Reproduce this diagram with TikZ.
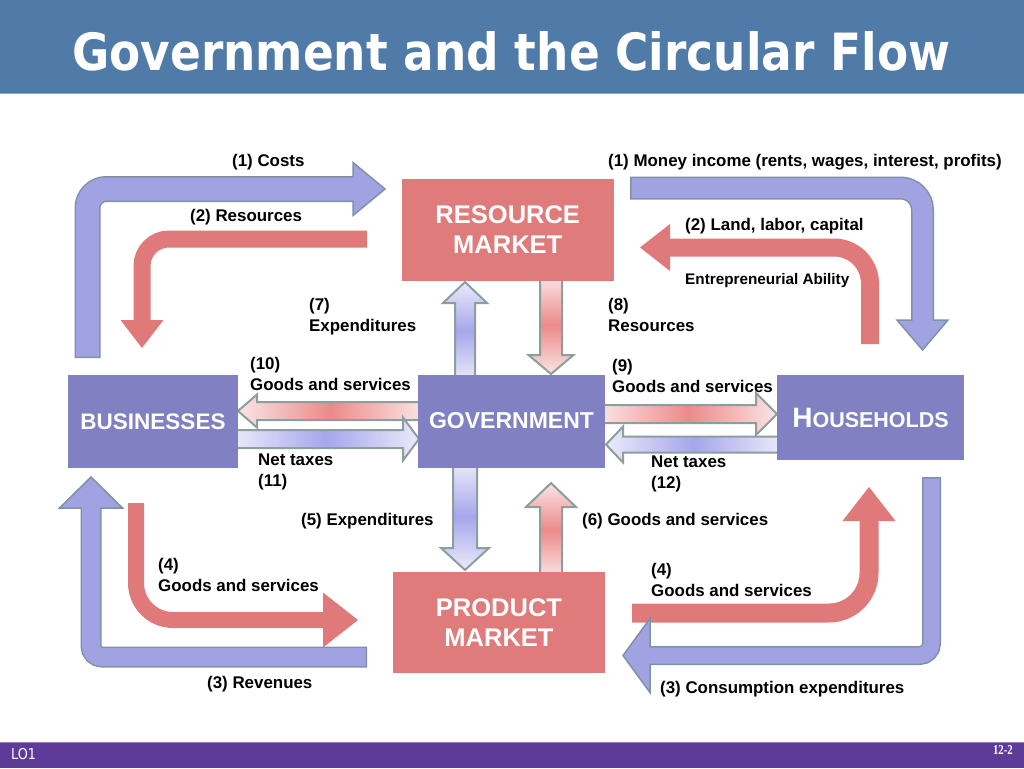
\documentclass[tikz,border=0pt]{standalone}
\usepackage{fontspec}
\setmainfont{Liberation Sans}
\newfontfamily\titlefont{DejaVu Sans}
\newfontfamily\serifnum{Liberation Serif}
\definecolor{bf}{RGB}{160,162,226}
\definecolor{bo}{RGB}{126,146,166}
\definecolor{rf}{RGB}{224,122,122}
\definecolor{boxred}{RGB}{224,123,123}
\definecolor{boxpur}{RGB}{128,128,194}
\definecolor{ao}{RGB}{140,158,158}
\definecolor{rl}{RGB}{250,228,228}
\definecolor{rm}{RGB}{236,138,138}
\definecolor{bl}{RGB}{234,234,250}
\definecolor{bm}{RGB}{166,166,236}
\definecolor{titleblue}{RGB}{80,122,168}
\definecolor{footpur}{RGB}{94,59,153}
\newcommand\hblock[7]{%
  \path[#1] ({#2},{#5-#6}) -- ({#3},{#5-#6}) -- ({#3},{#5-#7}) -- ({#4},{#5})
    -- ({#3},{#5+#7}) -- ({#3},{#5+#6}) -- ({#2},{#5+#6}) -- cycle;}
\newcommand\vblock[7]{%
  \path[#1] ({#5-#6},{#2}) -- ({#5-#6},{#3}) -- ({#5-#7},{#3}) -- ({#5},{#4})
    -- ({#5+#7},{#3}) -- ({#5+#6},{#3}) -- ({#5+#6},{#2}) -- cycle;}
\begin{document}
\begin{tikzpicture}[x=1pt,y=-1pt,
  lbl/.style={font=\fontsize{16.9}{21}\selectfont\bfseries, inner sep=0pt, align=left},
  hred/.style={draw=ao, line width=2pt, line join=miter, left color=rl, right color=rl, middle color=rm},
  hblue/.style={draw=ao, line width=2pt, line join=miter, left color=bl, right color=bl, middle color=bm},
  vred/.style={draw=ao, line width=2pt, line join=miter, top color=rl, bottom color=rl, middle color=rm},
  vblue/.style={draw=ao, line width=2pt, line join=miter, top color=bl, bottom color=bl, middle color=bm},
  redbody/.style={draw=rf, line cap=butt},
  bluebody/.style={draw=bf, line cap=butt},
  blueline/.style={draw=bo, line cap=butt},
  redhead/.style={fill=rf},
  bluehead/.style={fill=bf, draw=bo, line width=1.5pt, line join=miter},
  box/.style={draw=none, inner sep=0pt, text=white, font=\bfseries, align=center}]
\useasboundingbox (0,0) rectangle (1024,768);
% title bar and footer
\fill[titleblue] (0,0) rectangle (1024,93);
\draw[color={rgb,255:red,140;green,170;blue,205}, line width=1.5pt] (0,93.5) -- (1024,93.5);
\node[anchor=base west, inner sep=0pt, text=white] (title) at (72,70)
  {\resizebox{878pt}{39pt}{\titlefont\bfseries Government and the Circular Flow}};
\fill[footpur] (0,742) rectangle (1024,768);
\draw[color={rgb,255:red,150;green,120;blue,200}, line width=1pt] (0,742.5) -- (1024,742.5);
\node[anchor=west, inner sep=0pt, text=white] (lo) at (11,754)
  {\scalebox{0.85}[1]{\titlefont\fontsize{15}{15}\selectfont LO1}};
\node[anchor=east, inner sep=0pt, text=white] (pg) at (1013,750)
  {\scalebox{0.8}[1]{\serifnum\fontsize{13.5}{13.5}\selectfont\bfseries 12-2}};

% red bent arrows
\draw[redbody, line width=17pt, rounded corners=27pt] (367,239) -- (142,239) -- (142,322);
\fill[redhead] (120.5,320) -- (142,348) -- (163.5,320) -- cycle;
\draw[redbody, line width=18pt, rounded corners=36pt] (870,344) -- (870,247.5) -- (668,247.5);
\fill[redhead] (670,224) -- (640,247.5) -- (670,271) -- cycle;
\draw[redbody, line width=16pt, rounded corners=37pt] (136,503) -- (136,620) -- (325,620);
\fill[redhead] (323,592.5) -- (358,620) -- (323,647.5) -- cycle;
\draw[redbody, line width=19pt, rounded corners=40pt] (632,613) -- (869,613) -- (869,519);
\fill[redhead] (842.5,521) -- (869,487) -- (895.5,521) -- cycle;

% blue bent arrows
\draw[blueline, line width=26pt, rounded corners=19pt] (87.5,358) -- (87.5,189) -- (354,189);
\filldraw[bluehead] (353,162.5) -- (385,189) -- (353,215.5) -- cycle;
\draw[bluebody, line width=23pt, rounded corners=19pt, shorten <=1.5pt, shorten >=-3pt] (87.5,358) -- (87.5,189) -- (353,189);

\draw[blueline, line width=23pt, rounded corners=22pt] (630,188) -- (922.5,188) -- (922.5,321);
\filldraw[bluehead] (897,320) -- (922.5,350) -- (948,320) -- cycle;
\draw[bluebody, line width=20pt, rounded corners=22pt, shorten <=1.5pt, shorten >=-3pt] (630,188) -- (922.5,188) -- (922.5,320);

\draw[blueline, line width=21pt, rounded corners=11pt] (367,657) -- (91,657) -- (91,507);
\filldraw[bluehead] (59.5,508) -- (91,477) -- (122.5,508) -- cycle;
\draw[bluebody, line width=18pt, rounded corners=11pt, shorten <=1.5pt, shorten >=-3pt] (367,657) -- (91,657) -- (91,508);

\draw[blueline, line width=19pt, rounded corners=12pt] (931.5,477) -- (931.5,655.5) -- (649,655.5);
\filldraw[bluehead] (650,618.5) -- (623,655.5) -- (650,692.5) -- cycle;
\draw[bluebody, line width=16pt, rounded corners=12pt, shorten <=1.5pt, shorten >=-3pt] (931.5,477) -- (931.5,655.5) -- (650,655.5);

% central block arrows
\hblock{hred}{600}{756}{777}{414}{9}{21}
\hblock{hblue}{782}{623}{606}{444.5}{8}{18}
\hblock{hred}{423}{257}{238}{411}{9}{16.5}
\hblock{hblue}{233}{403}{419}{439}{9}{21.5}
\vblock{vblue}{380}{303}{282}{465}{10}{22}
\vblock{vred}{276}{355}{374}{551}{11}{22.5}
\vblock{vblue}{463}{548}{570}{465}{12}{24}
\vblock{vred}{577}{507}{483}{551}{11}{25}

% boxes
\node[box, fill=boxred, minimum width=212.5pt, minimum height=102pt,
  font=\fontsize{25.5}{30}\selectfont\bfseries] (rm) at (507.75,230) {RESOURCE\\MARKET};
\node[box, fill=boxred, minimum width=212pt, minimum height=101pt,
  font=\fontsize{25.5}{30}\selectfont\bfseries] (pm) at (499,622.5) {PRODUCT\\MARKET};
\node[box, fill=boxpur, minimum width=170pt, minimum height=93pt,
  font=\fontsize{22.5}{26}\selectfont\bfseries] (bus) at (153,421.5) {BUSINESSES};
\node[box, fill=boxpur, minimum width=187pt, minimum height=93pt,
  font=\fontsize{23}{26}\selectfont\bfseries] (gov) at (511.5,421.5) {\raisebox{1.5pt}{GOVERNMENT}};
\node[box, fill=boxpur, minimum width=187pt, minimum height=85pt] (hh) at (870.5,417.5)
  {{\fontsize{28}{28}\selectfont H}{\fontsize{21.5}{28}\selectfont OUSEHOLDS}};

% labels
\node[lbl, anchor=base west] (l1) at (232,166) {(1) Costs};
\node[lbl, anchor=base west] (l2) at (190,221) {(2) Resources};
\node[lbl, anchor=base west] (l3) at (608,166) {(1) Money income (rents, wages, interest, profits)};
\node[lbl, anchor=base west] (l4) at (685,230) {(2) Land, labor, capital};
\node[lbl, anchor=base west, font=\fontsize{15.3}{18}\selectfont\bfseries] (l5) at (685,284) {Entrepreneurial Ability};
\node[lbl, anchor=north west] (l7) at (309,298) {(7)\\Expenditures};
\node[lbl, anchor=north west] (l8) at (608,298) {(8)\\Resources};
\node[lbl, anchor=north west] (l10) at (250,357) {(10)\\Goods and services};
\node[lbl, anchor=north west] (l9) at (612,359) {(9)\\Goods and services};
\node[lbl, anchor=north west] (l11) at (258,454) {Net taxes\\(11)};
\node[lbl, anchor=north west] (l12) at (651,456) {Net taxes\\(12)};
\node[lbl, anchor=base west] (l5e) at (301,525) {(5) Expenditures};
\node[lbl, anchor=base west] (l6) at (582,525) {(6) Goods and services};
\node[lbl, anchor=north west] (l4a) at (158,558) {(4)\\Goods and services};
\node[lbl, anchor=north west] (l4b) at (651,563) {(4)\\Goods and services};
\node[lbl, anchor=base west] (l3a) at (207,688) {(3) Revenues};
\node[lbl, anchor=base west] (l3b) at (660,693) {(3) Consumption expenditures};
\end{tikzpicture}
\end{document}
